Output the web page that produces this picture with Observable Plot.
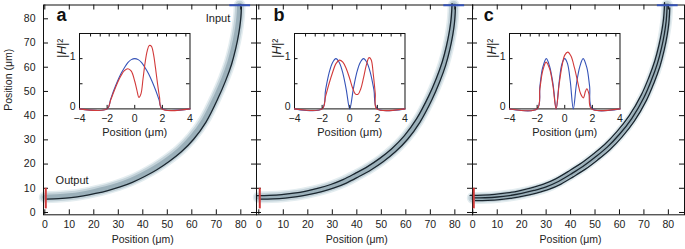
<!DOCTYPE html>
<html><head><meta charset="utf-8">
<script src="https://cdn.jsdelivr.net/npm/d3@7"></script>
<script src="https://cdn.jsdelivr.net/npm/@observablehq/plot@0.6"></script>
<style>
body{margin:0;background:#fff}
#fig{position:relative;width:685px;height:249px;overflow:hidden;background:#fff}
#fig svg{position:absolute;background:transparent;max-width:none}
</style>
</head><body><div id="fig"></div>
<script>
// ---------- data ----------
const mainTicks = [0, 10, 20, 30, 40, 50, 60, 70, 80];
const panelNames = ["a", "b", "c"];
const axisTitle = "Position (μm)";
const inputLabel = "Input";
const outputLabel = "Output";

// beam centre lines (main panels)
const beamX = [0, 5, 10, 15, 20, 25, 30, 35, 40, 45, 50, 55, 60, 65, 70, 73, 75.5, 77.2, 78.4, 79.1, 79.4, 79.5];
const beamYa = [6.3, 6.5, 6.9, 7.6, 8.6, 9.8, 11.3, 13.2, 15.6, 18.4, 21.8, 25.8, 31, 38, 48, 55, 62, 68.5, 74.5, 79.5, 83, 85.6];
const beamYb = [6.3, 6.4, 6.7, 7.3, 8.2, 9.4, 10.9, 12.9, 15.5, 18.3, 21.7, 25.8, 31, 38, 47.5, 54.5, 61.5, 68, 74, 79, 83, 85.6];
const beamYc = [6.0, 6.1, 6.4, 7.0, 7.9, 9.1, 10.6, 12.8, 15.8, 19, 22.8, 27, 32.3, 38.8, 47.5, 54.5, 61.5, 68, 74, 79, 83, 85.6];

// output (red) and input (blue) markers
const outputX = [0.4, 0.4, 0.4];
const outputY1 = [1.5, 1.5, 1.5];
const outputY2 = [10, 10, 10];
const inputY = [85.6, 85.6, 85.6];
const inputX1 = [75.5, 75.5, 75.5];
const inputX2 = [84, 84, 84];

// inset axes
const insetXTicks = [-4, -2, 0, 2, 4];
const insetYTicks = [0, 1];
const insetSideTicks = [0.5, 1];
const insetBottomTicks = [-2, 0, 2];
const insetTopTicks = [-3.2, -2.5, -1.85, -1.15, -0.45, 0.25, 0.95, 1.65, 2.3, 3.0, 3.7];

// inset |H|^2 profiles
const blueXa = [-4, -2, -1.75, -1.5, -1.25, -1, -0.75, -0.5, -0.25, 0, 0.25, 0.5, 0.75, 1, 1.25, 1.5, 1.75, 2, 4];
const blueYa = [0, 0, 0.19, 0.38, 0.55, 0.7, 0.82, 0.92, 0.98, 1.0, 0.98, 0.92, 0.82, 0.7, 0.55, 0.38, 0.19, 0, 0];
const redXa = [-4, -2, -1.75, -1.5, -1.25, -1, -0.75, -0.5, -0.25, 0, 0.15, 0.3, 0.45, 0.6, 0.75, 0.9, 1.05, 1.2, 1.35, 1.5, 1.65, 1.8, 1.95, 4];
const redYa = [0, 0, 0.17, 0.35, 0.52, 0.66, 0.76, 0.8, 0.75, 0.55, 0.38, 0.23, 0.3, 0.6, 0.92, 1.15, 1.26, 1.25, 1.1, 0.82, 0.5, 0.22, 0, 0];

const blueXb = [-4, -2, -1.75, -1.5, -1.25, -1, -0.75, -0.5, -0.25, 0, 0.25, 0.5, 0.75, 1, 1.25, 1.5, 1.75, 2, 4];
const blueYb = [0, 0, 0.38, 0.71, 0.92, 1.0, 0.92, 0.71, 0.38, 0, 0.38, 0.71, 0.92, 1.0, 0.92, 0.71, 0.38, 0, 0];
const redXb = [-4, -2, -1.75, -1.5, -1.25, -1, -0.75, -0.5, -0.25, 0, 0.2, 0.4, 0.6, 0.8, 1.0, 1.2, 1.4, 1.55, 1.7, 1.85, 1.95, 4];
const redYb = [0, 0, 0.25, 0.5, 0.72, 0.9, 0.97, 0.93, 0.8, 0.6, 0.42, 0.3, 0.29, 0.4, 0.62, 0.87, 1.02, 0.98, 0.7, 0.3, 0, 0];

const blueXc = [-4, -2, -1.8, -1.6, -1.33, -1.1, -0.85, -0.62, -0.4, -0.2, 0, 0.2, 0.4, 0.62, 0.85, 1.1, 1.33, 1.6, 1.8, 2, 4];
const blueYc = [0, 0, 0.45, 0.82, 1.0, 0.85, 0.5, 0, 0.55, 0.9, 1.0, 0.9, 0.55, 0, 0.5, 0.85, 1.0, 0.82, 0.45, 0, 0];
const redXc = [-4, -2, -1.8, -1.6, -1.35, -1.1, -0.85, -0.63, -0.4, -0.2, 0, 0.22, 0.45, 0.7, 0.95, 1.15, 1.35, 1.5, 1.6, 1.75, 1.93, 4];
const redYc = [0, 0, 0.4, 0.75, 0.93, 0.8, 0.45, 0, 0.5, 0.85, 1.07, 1.13, 1.05, 0.82, 0.52, 0.3, 0.22, 0.35, 0.4, 0.3, 0, 0];

// ---------- drawing ----------
const fig = document.getElementById("fig");
const font = "'Liberation Sans', Arial, Helvetica, sans-serif";
const zip = (xs, ys) => xs.map((x, i) => ({x, y: ys[i]}));
function place(svg, left, top) {
  svg.style.left = left + "px";
  svg.style.top = top + "px";
  fig.appendChild(svg);
}

const RED = "#d23a3a", BLUE = "#3553b8";
const mTop = 4.5, mBottom = 34.7, figH = 249, tick = 5;
const yDomain = [-0.95, 85.7];

const panels = [
  {svgLeft: 0, width: 257, ml: 43, mr: 1, xd: [-0.53, 86.4], beamY: beamYa, offsets: [1.8], labelX: 4.8},
  {svgLeft: 246, width: 228, ml: 10, mr: 2, xd: [-0.94, 87.2], beamY: beamYb, offsets: [-1.6, 1.8], labelX: 6.0},
  {svgLeft: 462, width: 223, ml: 10, mr: 1, xd: [-0.12, 86.6], beamY: beamYc, offsets: [-2.6, 0, 2.6], labelX: 4.5}
];

panels.forEach((p, i) => {
  const beam = zip(beamX, p.beamY);
  const frameW = p.width - p.ml - p.mr;
  const frameH = figH - mTop - mBottom;
  const marks = [
    Plot.line(beam, {x: "x", y: "y", stroke: "#e4edf0", strokeWidth: 12, curve: "catmull-rom"}),
    Plot.line(beam, {x: "x", y: "y", stroke: "#c3d2d9", strokeWidth: 9, curve: "catmull-rom"}),
    Plot.line(beam, {x: "x", y: "y", stroke: "#9bb0ba", strokeWidth: 5, curve: "catmull-rom"}),
    ...p.offsets.map(o => Plot.line(beam, {x: "x", y: "y", stroke: "#1a262f", strokeWidth: 1.3, dx: o, dy: o, curve: "catmull-rom"})),
    Plot.frame({stroke: "#111"}),
    // inward ticks on four sides
    Plot.tickX(mainTicks, {x: d => d, stroke: "#111", insetTop: frameH - tick}),
    Plot.tickX(mainTicks, {x: d => d, stroke: "#111", insetBottom: frameH - tick}),
    Plot.tickY(mainTicks, {y: d => d, stroke: "#111", insetRight: frameW - tick}),
    Plot.tickY(mainTicks, {y: d => d, stroke: "#111", insetLeft: frameW - tick}),
    Plot.axisX(mainTicks, {tickSize: 0, tickPadding: 6, label: null, fontSize: 10.5, fill: "#222"}),
    Plot.text([axisTitle], {x: 40, frameAnchor: "bottom", dy: 24.7, lineAnchor: "middle", fontSize: 10.5, fill: "#222"}),
    // markers
    Plot.ruleX([i], {x: d => outputX[d], y1: d => outputY1[d], y2: d => outputY2[d], stroke: RED, strokeWidth: 2}),
    Plot.ruleY([i], {y: d => inputY[d], x1: d => inputX1[d], x2: d => inputX2[d], stroke: BLUE, strokeWidth: 2}),
    Plot.text([panelNames[i]], {x: p.labelX, y: 78.9, textAnchor: "start", lineAnchor: "bottom", fontSize: 18, fontWeight: "bold", fill: "#111"})
  ];
  if (i === 0) {
    marks.push(
      Plot.axisY(mainTicks, {tickSize: 0, tickPadding: 8, label: null, fontSize: 10.5, fill: "#222"}),
      Plot.text([axisTitle], {y: 42, frameAnchor: "left", dx: -35, rotate: -90, lineAnchor: "middle", fontSize: 10.5, fill: "#222"}),
      Plot.text([inputLabel], {x: 65.7, y: 78.5, textAnchor: "start", lineAnchor: "bottom", fontSize: 11, fill: "#222"}),
      Plot.text([outputLabel], {x: 4.4, y: 11.6, textAnchor: "start", lineAnchor: "bottom", fontSize: 11, fill: "#222"})
    );
  } else {
    marks.push(Plot.axisY(mainTicks, {tickSize: 0, label: null, text: null}));
  }
  const svg = Plot.plot({
    width: p.width, height: figH,
    marginLeft: p.ml, marginRight: p.mr, marginTop: mTop, marginBottom: mBottom,
    x: {domain: p.xd},
    y: {domain: yDomain},
    style: {fontFamily: font, background: "transparent", overflow: "visible"},
    marks
  });
  place(svg, p.svgLeft, 0);
});

// insets
const insets = [
  {left: 79, bx: blueXa, by: blueYa, rx: redXa, ry: redYa},
  {left: 294, bx: blueXb, by: blueYb, rx: redXb, ry: redYb},
  {left: 509, bx: blueXc, by: blueYc, rx: redXc, ry: redYc}
];
const iML = 30, iMT = 6, iFW = 110.5, iFH = 75.4, iMR = 4, iMB = 32, iTick = 3.5;
insets.forEach(s => {
  const svg = Plot.plot({
    width: iML + iFW + iMR, height: iMT + iFH + iMB,
    marginLeft: iML, marginTop: iMT, marginRight: iMR, marginBottom: iMB,
    x: {domain: [-4, 4]},
    y: {domain: [0, 1.5]},
    style: {fontFamily: font, background: "transparent", overflow: "visible"},
    marks: [
      Plot.frame({fill: "white", stroke: "#111"}),
      Plot.line(zip(s.bx, s.by), {x: "x", y: "y", stroke: BLUE, strokeWidth: 1.1, curve: "catmull-rom"}),
      Plot.line(zip(s.rx, s.ry), {x: "x", y: "y", stroke: RED, strokeWidth: 1.1, curve: "catmull-rom"}),
      Plot.tickX(insetTopTicks, {x: d => d, stroke: "#111", insetBottom: iFH - iTick}),
      Plot.tickX(insetBottomTicks, {x: d => d, stroke: "#111", insetTop: iFH - iTick}),
      Plot.tickY(insetSideTicks, {y: d => d, stroke: "#111", insetRight: iFW - iTick}),
      Plot.tickY(insetSideTicks, {y: d => d, stroke: "#111", insetLeft: iFW - iTick}),
      Plot.axisX(insetXTicks, {tickSize: 0, tickPadding: 5.5, label: null, fontSize: 10.5, fill: "#222", tickFormat: d => d3.format("d")(d).replace("-", "−")}),
      Plot.axisY(insetYTicks, {tickSize: 0, tickPadding: 4, label: null, fontSize: 10.5, fill: "#222", tickFormat: d => String(d), dy: -2.5}),
      Plot.text([axisTitle], {x: 0, frameAnchor: "bottom", dy: 24, lineAnchor: "middle", fontSize: 11, fill: "#222"}),
      Plot.text(["|H|²"], {y: 1.02, frameAnchor: "left", dx: -17, rotate: -90, lineAnchor: "middle", fontSize: 12, fill: "#222"})
    ]
  });
  svg.querySelectorAll("text").forEach(t => {
    if (t.textContent === "|H|²") {
      t.textContent = "";
      const ns = "http://www.w3.org/2000/svg";
      const parts = [["|", null], ["H", "italic"], ["|²", null]];
      parts.forEach(([txt, st]) => {
        const ts = document.createElementNS(ns, "tspan");
        ts.textContent = txt;
        if (st) ts.setAttribute("font-style", st);
        t.appendChild(ts);
      });
    }
  });
  place(svg, s.left - iML, 33.3 - iMT);
});
</script>
</body></html>
